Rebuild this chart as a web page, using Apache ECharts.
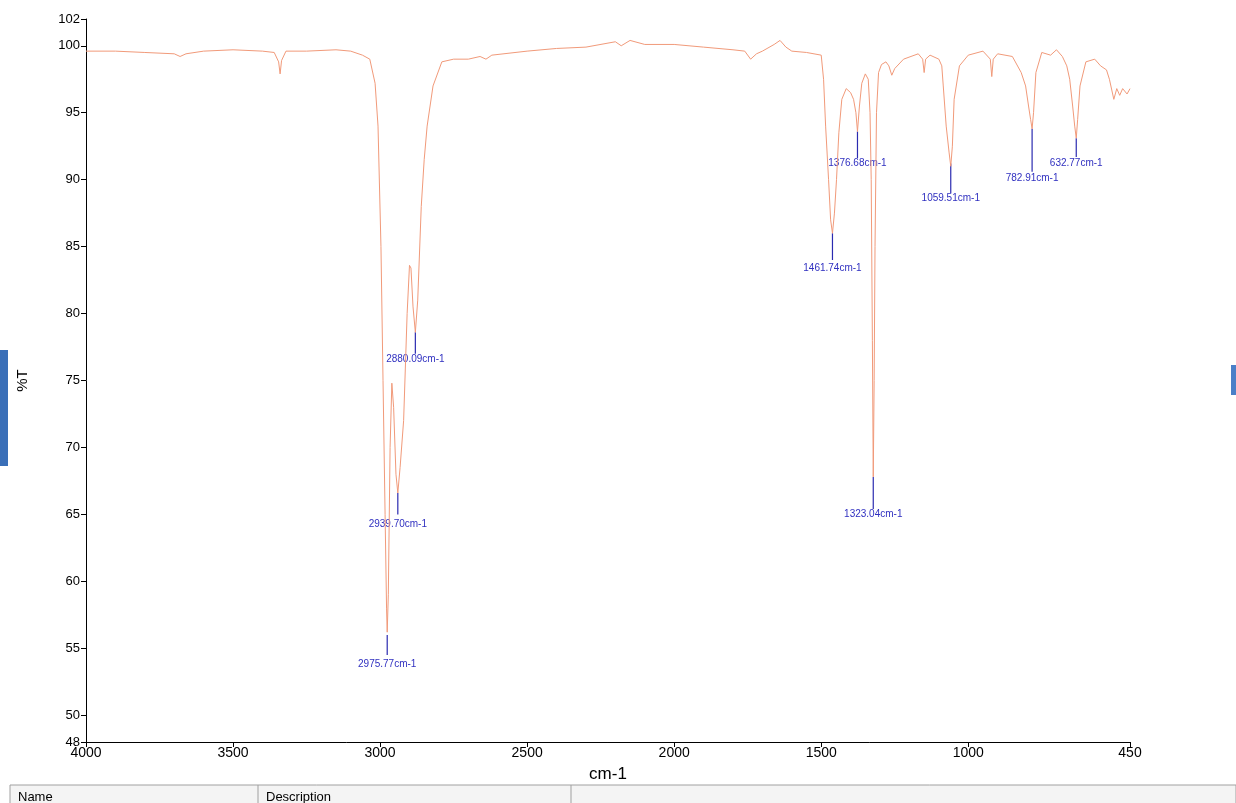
<!DOCTYPE html>
<html><head><meta charset="utf-8">
<script src="https://cdn.jsdelivr.net/npm/echarts@6/dist/echarts.min.js"></script>
<style>html,body{margin:0;padding:0;background:#fff}#c{width:1236px;height:803px}</style>
</head><body><div id="c"></div>
<script>
const wavenumbers = [4000,3900,3800,3700,3680,3660,3600,3500,3400,3360,3345,3340,3335,3320,3250,3150,3100,3060,3035,3017,3007,2997,2990,2983,2978,2975.77,2972,2966,2960,2954,2946,2939.7,2932,2920,2908,2900,2895,2888,2880.09,2872,2860,2850,2840,2820,2790,2750,2700,2660,2640,2620,2500,2400,2300,2200,2180,2150,2100,2000,1900,1800,1760,1740,1720,1700,1660,1640,1620,1600,1550,1500,1492,1485,1475,1468,1461.74,1455,1448,1440,1430,1415,1400,1390,1382,1376.68,1370,1362,1350,1340,1334,1330,1326,1323.04,1320,1317,1312,1305,1295,1280,1270,1260,1250,1220,1170,1155,1150,1145,1130,1100,1090,1085,1075,1065,1059.51,1054,1048,1030,1000,950,925,920,915,900,850,820,805,795,788,782.91,778,770,750,720,700,680,665,655,645,638,632.77,628,620,600,570,550,530,520,505,495,485,475,460,450];
const transmittance = [99.6,99.6,99.5,99.4,99.2,99.4,99.6,99.7,99.6,99.5,98.8,97.9,98.9,99.6,99.6,99.7,99.6,99.3,99.0,97.2,94.0,85.0,75.0,65.0,58.0,56.2,59.0,70.0,74.8,73.0,68.0,66.6,68.5,72.0,80.0,83.6,83.4,80.5,78.6,81.0,88.0,91.5,94.0,97.0,98.8,99.0,99.0,99.2,99.0,99.3,99.6,99.8,99.9,100.3,100.0,100.4,100.1,100.1,99.9,99.7,99.6,99.0,99.4,99.6,100.1,100.4,99.9,99.6,99.5,99.3,97.5,94.0,90.0,87.0,86.0,87.5,90.0,93.5,96.0,96.8,96.5,96.0,95.0,93.6,95.5,97.2,97.9,97.5,95.0,90.0,78.0,67.8,75.0,85.0,95.0,98.0,98.6,98.8,98.5,97.8,98.3,99.0,99.4,99.0,98.0,99.0,99.3,99.0,98.5,97.0,94.0,92.0,91.0,92.5,96.0,98.5,99.3,99.6,99.0,97.7,99.0,99.4,99.2,98.0,97.0,95.5,94.5,93.8,95.0,98.0,99.5,99.3,99.7,99.2,98.5,97.5,95.5,94.0,93.1,94.5,97.0,98.8,99.0,98.5,98.2,97.5,96.0,96.8,96.3,96.8,96.4,96.8,96.6];
const peakWavenumbers = [2975.77,2939.70,2880.09,1461.74,1376.68,1323.04,1059.51,782.91,632.77];
const peakLineTop = [56.0,66.6,78.6,86.0,93.6,67.8,91.2,93.8,93.1];
const peakLineBottom = [54.5,65.0,77.0,84.0,91.6,65.4,89.0,90.6,91.7];
const peakLabelY = [53.8,64.3,76.6,83.4,91.2,65.0,88.6,90.1,91.2];
const peakLabels = ['2975.77cm-1','2939.70cm-1','2880.09cm-1','1461.74cm-1','1376.68cm-1','1323.04cm-1','1059.51cm-1','782.91cm-1','632.77cm-1'];
const xTicks = [4000,3500,3000,2500,2000,1500,1000,450];
const yTicks = [48,50,55,60,65,70,75,80,85,90,95,100,102];

const spectrum = wavenumbers.map((w,i)=>[w,transmittance[i]]);
const peaks = peakWavenumbers.map((w,i)=>[w,peakLineTop[i],peakLineBottom[i],peakLabelY[i]]);
const chart = echarts.init(document.getElementById('c'));
const axisStyle = {lineStyle:{color:'#000'}};
chart.setOption({
  animation:false,
  backgroundColor:'#fff',
  grid:{left:86,right:106,top:19,bottom:61},
  xAxis:{type:'value',min:450,max:4000,inverse:true,
    name:'cm-1',nameLocation:'middle',nameGap:24,nameTextStyle:{fontSize:17,color:'#000',fontFamily:'Liberation Sans'},
    axisLine:axisStyle,axisTick:{customValues:xTicks,length:5,lineStyle:{color:'#000'}},
    axisLabel:{customValues:xTicks,formatter:v=>String(v),color:'#000',fontSize:14,margin:4,fontFamily:'Liberation Sans'},splitLine:{show:false}},
  yAxis:{type:'value',min:48,max:102,
    name:'%T',nameLocation:'middle',nameGap:56,nameRotate:90,nameTextStyle:{fontSize:15,color:'#000',fontFamily:'Liberation Sans'},
    axisLine:axisStyle,axisTick:{customValues:yTicks,length:5,lineStyle:{color:'#000'}},
    axisLabel:{customValues:yTicks,formatter:v=>String(v),color:'#000',fontSize:13,margin:6,fontFamily:'Liberation Sans'},splitLine:{show:false}},
  series:[
    {type:'line',data:spectrum,showSymbol:false,smooth:false,lineStyle:{color:'#f19a7a',width:1}},
    {type:'custom',data:peaks,renderItem:function(params,api){
      const x=api.value(0);
      const p1=api.coord([x,api.value(1)]), p2=api.coord([x,api.value(2)]), p3=api.coord([x,api.value(3)]);
      return {type:'group',children:[
        {type:'line',shape:{x1:p1[0],y1:p1[1],x2:p2[0],y2:p2[1]},style:{stroke:'#2b2bb0',lineWidth:1.2}},
        {type:'text',x:p3[0],y:p3[1],style:{text:peakLabels[params.dataIndex],fill:'#3030c0',font:'10px Liberation Sans',align:'center',verticalAlign:'middle'}}
      ]};
    }}
  ],
  graphic:[
    {type:'rect',shape:{x:0,y:350,width:8,height:116},style:{fill:'#3a6fb8'}},
    {type:'rect',shape:{x:1231,y:365,width:5,height:30},style:{fill:'#4a7fc8'}},
    {type:'rect',shape:{x:10,y:785,width:1226,height:20},style:{fill:'#f4f4f4',stroke:'#a0a0a0',lineWidth:1}},
    {type:'line',shape:{x1:258,y1:785,x2:258,y2:803},style:{stroke:'#a0a0a0'}},
    {type:'line',shape:{x1:571,y1:785,x2:571,y2:803},style:{stroke:'#a0a0a0'}},
    {type:'text',x:18,y:791,style:{text:'Name',fill:'#000',font:'13px Liberation Sans'}},
    {type:'text',x:266,y:791,style:{text:'Description',fill:'#000',font:'13px Liberation Sans'}}
  ]
});
</script></body></html>
